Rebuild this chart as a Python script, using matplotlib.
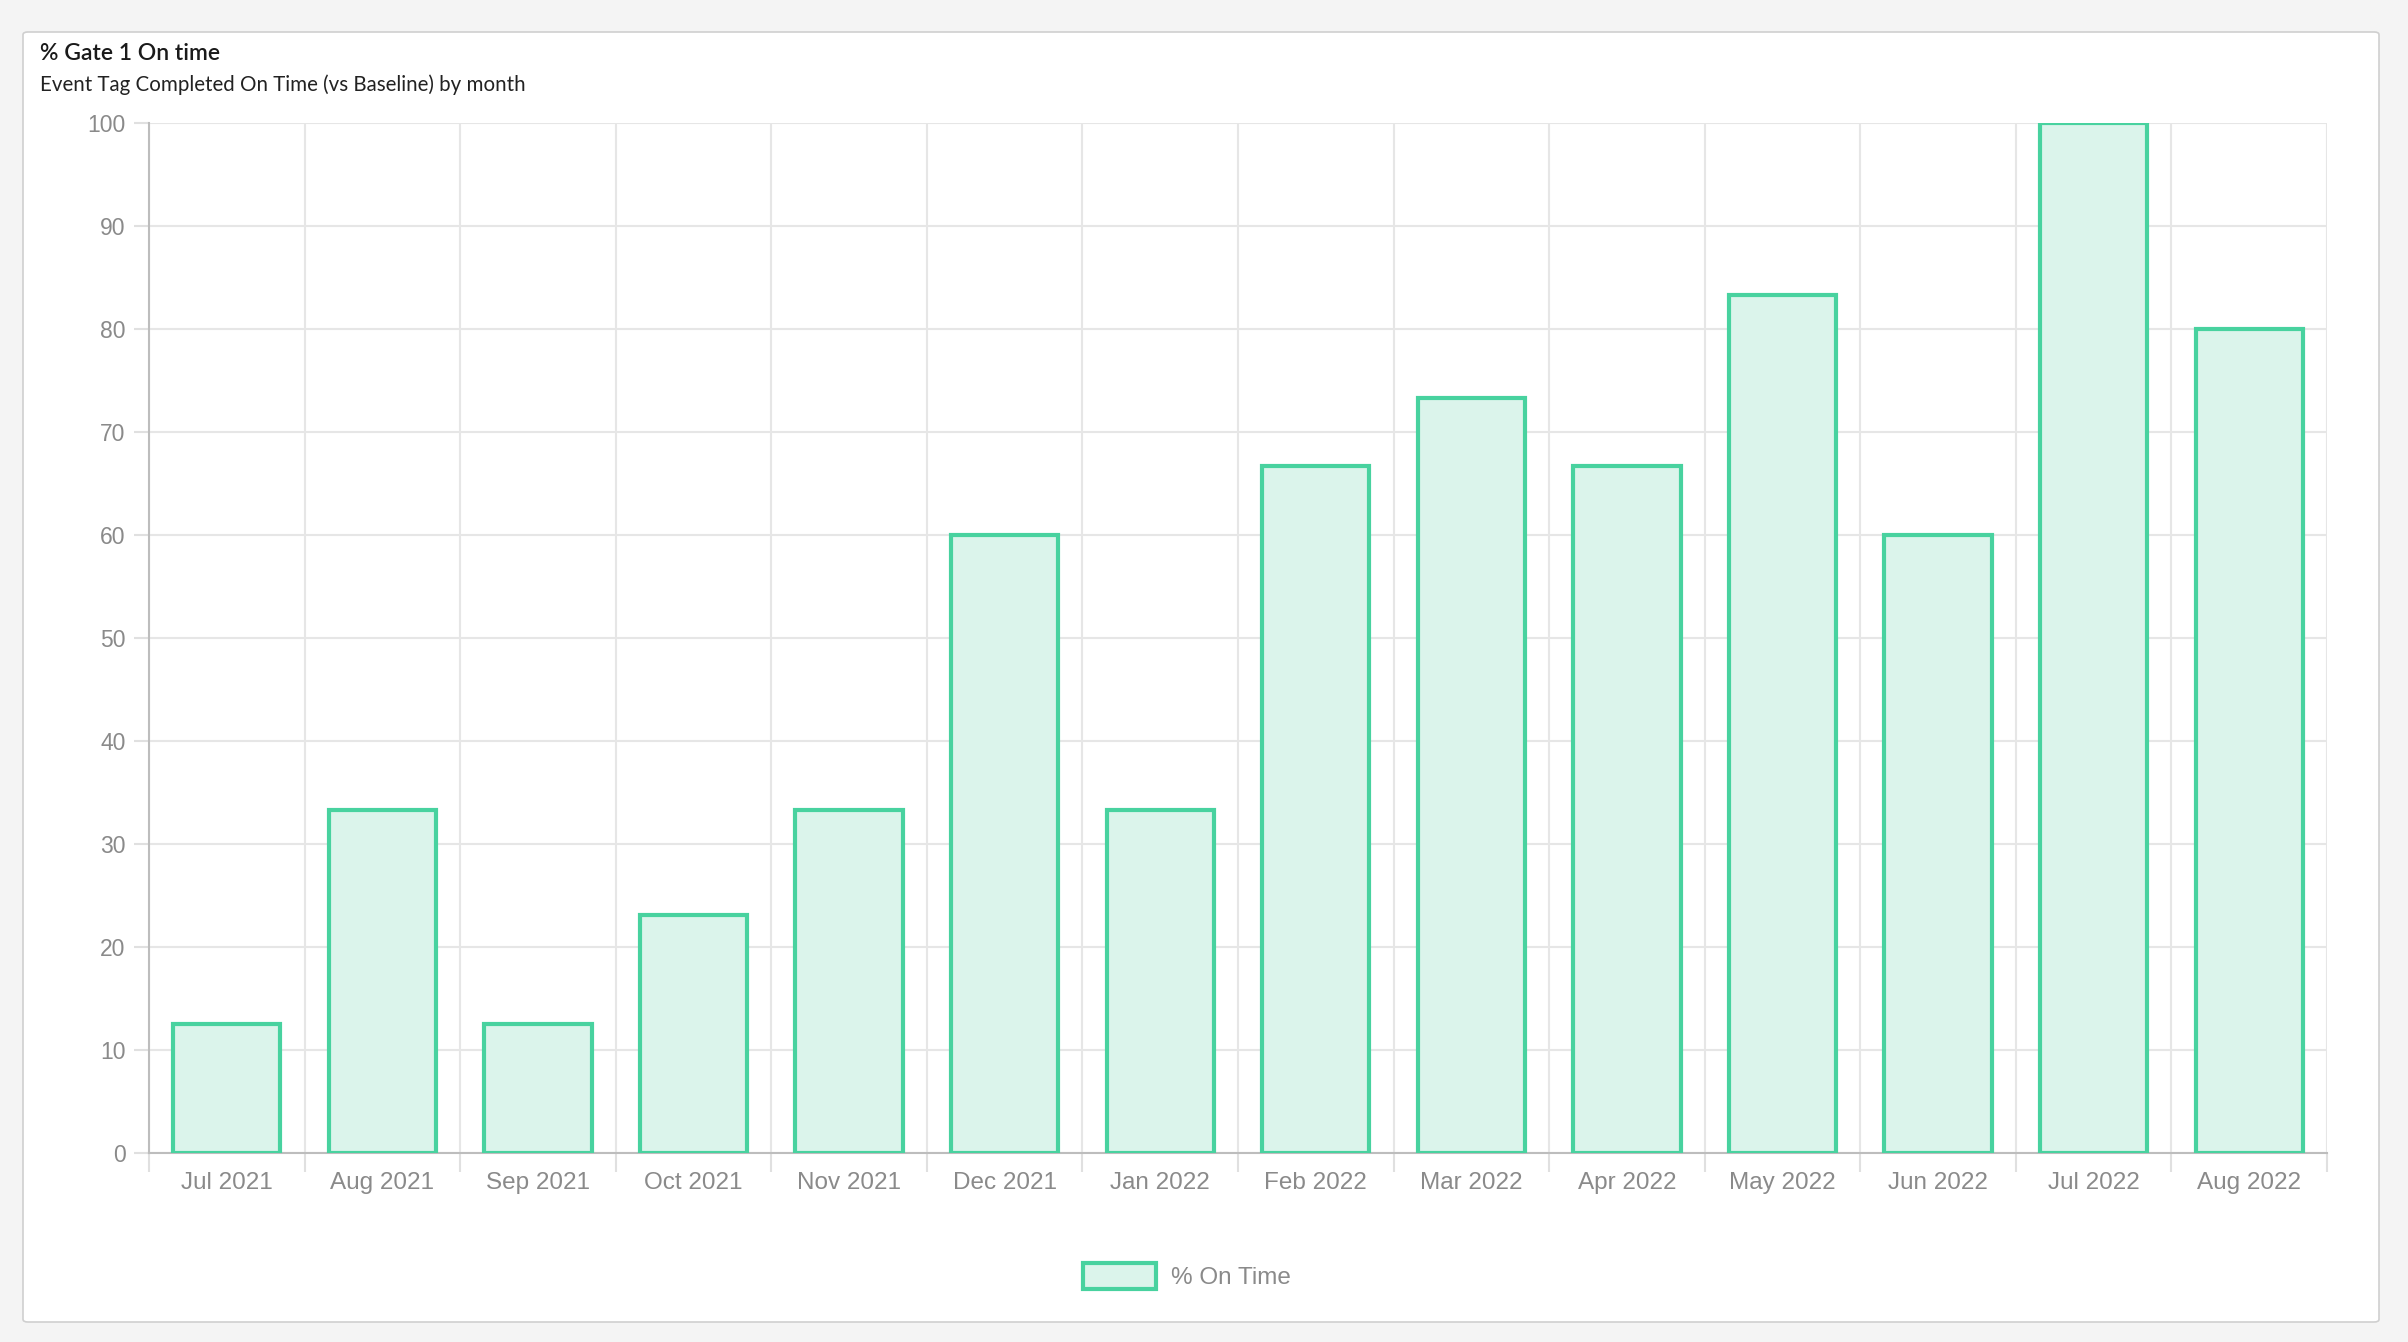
import numpy as np
import matplotlib.pyplot as plt
from matplotlib.patches import FancyBboxPatch, Patch

# ---> data
months = ['Jul 2021', 'Aug 2021', 'Sep 2021', 'Oct 2021', 'Nov 2021', 'Dec 2021', 'Jan 2022',
          'Feb 2022', 'Mar 2022', 'Apr 2022', 'May 2022', 'Jun 2022', 'Jul 2022', 'Aug 2022']
on_time = [12.5, 33.33, 12.5, 23.08, 33.33, 60.0, 33.33,
           66.67, 73.33, 66.67, 83.33, 60.0, 100.0, 80.0]
y_ticks = [0, 10, 20, 30, 40, 50, 60, 70, 80, 90, 100]

W, H = 2408, 1342
edge = '#48d29f'
fill = '#dbf4eb'
tick_col = '#8a8a8a'

fig = plt.figure(figsize=(W / 100, H / 100), dpi=100)
fig.patch.set_facecolor('#f4f4f4')

# white card behind everything
card = FancyBboxPatch((23 / W, 1 - 1322 / H), (2379 - 23) / W, (1322 - 32) / H,
                      boxstyle='round,pad=0,rounding_size=0.002', transform=fig.transFigure,
                      facecolor='white', edgecolor='#cfcfcf', linewidth=1.2, zorder=-5)
fig.patches.append(card)

fig.text(40 / W, 1 - 54 / H, '% Gate 1 On time', fontsize=16.5, family='Lato',
         color='#1a1a1a', va='center', ha='left', fontweight='semibold')
fig.text(40 / W, 1 - 85 / H, 'Event Tag Completed On Time (vs Baseline) by month', fontsize=14.8,
         family='Lato', color='#222222', va='center', ha='left')

ax = fig.add_axes([149 / W, 1 - 1153 / H, (2327 - 149) / W, (1153 - 123) / H])
ax.set_facecolor('none')
x = np.arange(len(months))
ax.bar(x, on_time, width=0.69, color=fill, edgecolor=edge, linewidth=3, zorder=3)

ax.set_xlim(-0.5, len(months) - 0.5)
ax.set_ylim(0, 100)
ax.set_yticks(y_ticks)
ax.set_xticks(x)
ax.set_xticklabels(months)
ax.set_xticks(np.arange(-0.5, len(months)), minor=True)

ax.grid(True, axis='y', color='#e6e6e6', linewidth=1.5, zorder=0)
ax.grid(True, axis='x', which='minor', color='#e6e6e6', linewidth=1.5, zorder=0)
ax.tick_params(axis='x', which='major', length=0, pad=14, labelsize=17.5, labelcolor=tick_col)
ax.tick_params(axis='x', which='minor', length=14, width=1.5, color='#e0e0e0')
ax.tick_params(axis='y', length=11, width=1.5, color='#e0e0e0', pad=6,
               labelsize=16.5, labelcolor=tick_col)
for lab in ax.get_xticklabels() + ax.get_yticklabels():
    lab.set_family('Liberation Sans')

for s in ['top', 'right']:
    ax.spines[s].set_visible(False)
ax.spines['left'].set_color('#bdbdbd')
ax.spines['bottom'].set_color('#bdbdbd')
ax.spines['left'].set_linewidth(1.5)
ax.spines['bottom'].set_linewidth(1.5)

leg = fig.legend(handles=[Patch(facecolor=fill, edgecolor=edge, linewidth=3, label='% On Time')],
                 loc='center', bbox_to_anchor=(0.493, 1 - 1276 / H), frameon=False,
                 handlelength=3.0, handleheight=1.3, handletextpad=0.6,
                 prop={'family': 'Liberation Sans', 'size': 17.5})
for t in leg.get_texts():
    t.set_color(tick_col)

fig.savefig('out.png', dpi=100, facecolor=fig.get_facecolor())
